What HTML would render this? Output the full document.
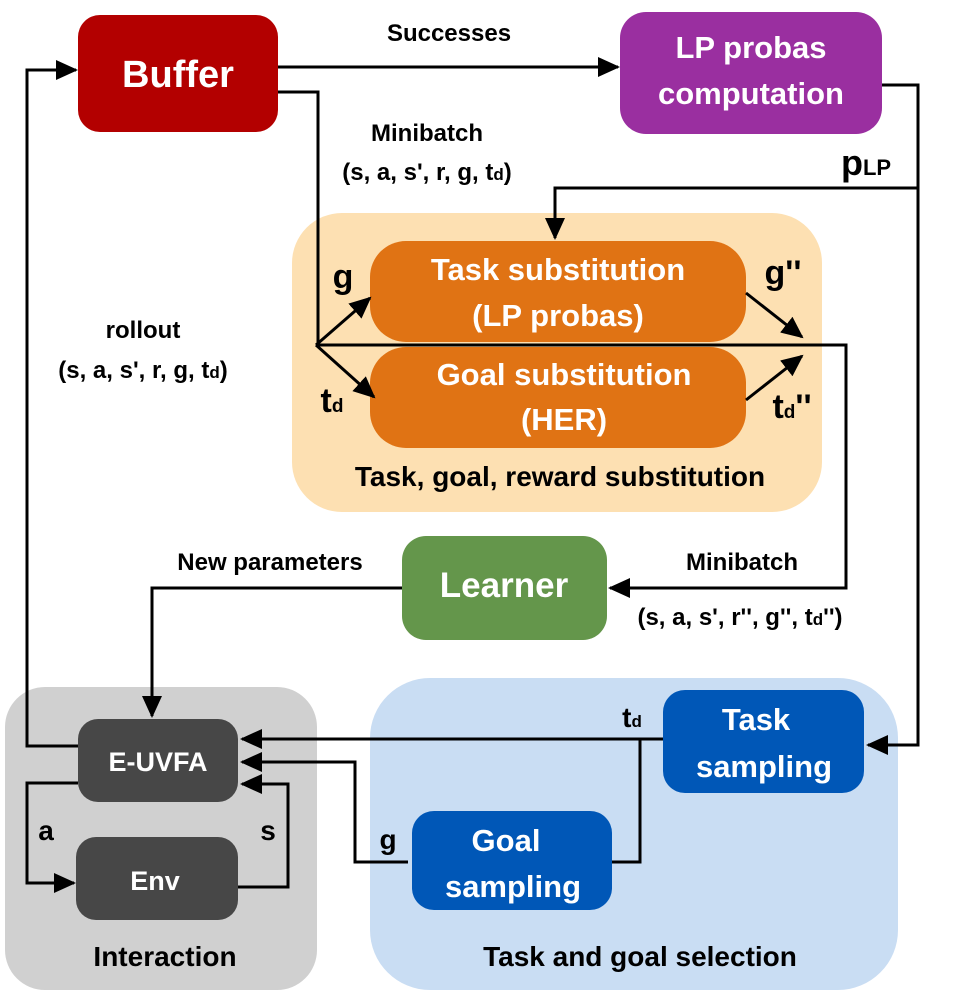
<!DOCTYPE html>
<html><head><style>html,body{margin:0;padding:0;background:#fff}svg{display:block}text{font-family:"Liberation Sans",sans-serif;font-weight:bold}</style></head><body>
<svg width="968" height="992" viewBox="0 0 968 992" xmlns="http://www.w3.org/2000/svg">
<defs><marker id="b" markerWidth="22" markerHeight="22" refX="20" refY="11" orient="auto" markerUnits="userSpaceOnUse" viewBox="0 0 22 22"><path d="M0,1 L22,11 L0,21 z" fill="#000"/></marker></defs>
<rect x="292" y="213" width="530" height="299" rx="50" fill="#fde0b2"/>
<rect x="5" y="687" width="312" height="303" rx="40" fill="#d0d0d0"/>
<rect x="370" y="678" width="528" height="312" rx="60" fill="#c9ddf3"/>
<rect x="78" y="15" width="200" height="117" rx="22" fill="#b30000"/>
<rect x="620" y="12" width="262" height="122" rx="26" fill="#9a2fa0"/>
<rect x="370" y="241" width="376" height="101" rx="36" fill="#e07314"/>
<rect x="370" y="347" width="376" height="101" rx="36" fill="#e07314"/>
<rect x="402" y="536" width="205" height="104" rx="24" fill="#64964b"/>
<rect x="78" y="719" width="160" height="83" rx="20" fill="#474747"/>
<rect x="76" y="837" width="162" height="83" rx="20" fill="#474747"/>
<rect x="663" y="690" width="201" height="103" rx="22" fill="#0057b7"/>
<rect x="412" y="811" width="200" height="99" rx="22" fill="#0057b7"/>
<g stroke="#000" stroke-width="3" fill="none">
<path d="M278,67 H618" marker-end="url(#b)"/>
<path d="M278,92 H318 V345"/>
<path d="M882,85 H918 V745 H868" marker-end="url(#b)"/>
<path d="M918,188 H555 V238" marker-end="url(#b)"/>
<path d="M316,345 L370,298" marker-end="url(#b)"/>
<path d="M316,345 L374,397" marker-end="url(#b)"/>
<path d="M316,345 H846 V588 H610" marker-end="url(#b)"/>
<path d="M746,293 L802,337" marker-end="url(#b)"/>
<path d="M746,400 L802,356" marker-end="url(#b)"/>
<path d="M402,588 H152 V716" marker-end="url(#b)"/>
<path d="M78,746 H27 V70 H76" marker-end="url(#b)"/>
<path d="M663,739 H242" marker-end="url(#b)"/>
<path d="M612,862 H640 V739"/>
<path d="M408,862 H355 V762 H242" marker-end="url(#b)"/>
<path d="M238,887 H288 V784 H242" marker-end="url(#b)"/>
<path d="M78,783 H27 V883 H74" marker-end="url(#b)"/>
</g>
<g fill="#fff" text-anchor="middle">
<text x="178" y="87" font-size="38">Buffer</text>
<text x="751" y="58" font-size="31">LP probas</text>
<text x="751" y="104" font-size="31">computation</text>
<text x="558" y="280" font-size="31">Task substitution</text>
<text x="558" y="326" font-size="31">(LP probas)</text>
<text x="564" y="385" font-size="31">Goal substitution</text>
<text x="564" y="430" font-size="31">(HER)</text>
<text x="504" y="597" font-size="35">Learner</text>
<text x="158" y="771" font-size="27">E-UVFA</text>
<text x="155" y="890" font-size="27">Env</text>
<text x="756" y="730" font-size="31">Task</text>
<text x="764" y="777" font-size="31">sampling</text>
<text x="506" y="851" font-size="31">Goal</text>
<text x="513" y="897" font-size="31">sampling</text>
</g>
<g fill="#000" text-anchor="middle" font-size="24">
<text x="449" y="41">Successes</text>
<text x="427" y="141">Minibatch</text>
<text x="427" y="180">(s, a, s', r, g, t<tspan font-size="17">d</tspan>)</text>
<text x="143" y="338">rollout</text>
<text x="143" y="378">(s, a, s', r, g, t<tspan font-size="17">d</tspan>)</text>
<text x="560" y="486" font-size="28">Task, goal, reward substitution</text>
<text x="270" y="570">New parameters</text>
<text x="742" y="570">Minibatch</text>
<text x="740" y="625">(s, a, s', r'', g'', t<tspan font-size="17">d</tspan>'')</text>
<text x="165" y="966" font-size="28">Interaction</text>
<text x="640" y="966" font-size="28">Task and goal selection</text>
<text x="46" y="840" font-size="28">a</text>
<text x="268" y="840" font-size="28">s</text>
<text x="343" y="288" font-size="34">g</text>
<text x="332" y="412" font-size="34">t<tspan font-size="19">d</tspan></text>
<text x="783" y="284" font-size="34">g''</text>
<text x="792" y="418" font-size="34">t<tspan font-size="19">d</tspan>''</text>
<text x="866" y="175" font-size="36">p<tspan font-size="22">LP</tspan></text>
<text x="632" y="727" font-size="28">t<tspan font-size="17">d</tspan></text>
<text x="388" y="849" font-size="28">g</text>
</g>
</svg>
</body></html>
